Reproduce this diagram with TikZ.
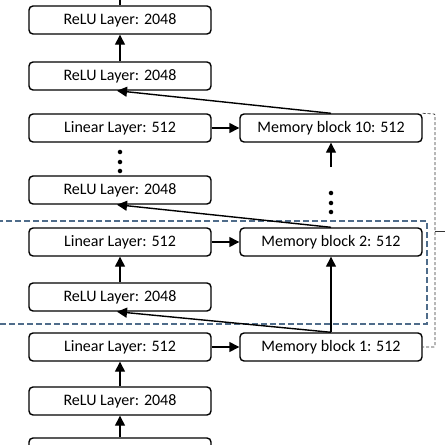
\documentclass[tikz,border=0pt]{standalone}
\usepackage{fontspec}
\setmainfont{Carlito}
\usetikzlibrary{arrows.meta,calc}
\tikzset {>={Triangle[length=10pt,width=10pt]}}
\tikzset{
  layer/.style={draw, line width=1.4pt, rounded corners=4pt,
    minimum width=182pt, minimum height=28pt, inner sep=0pt,
    font=\fontsize{16}{19}\selectfont},
  flow/.style={->, line width=1.4pt},
  dot/.style={circle, fill, inner sep=1.6pt}
}
\definecolor{groupblue}{HTML}{4F6C8A}

\begin{document}
\begin{tikzpicture}[x=1pt,y=-1pt]
\useasboundingbox (0,0) rectangle (445,445);

% Place left column of layers
\node[layer] (relu1) at (120,20) {ReLU Layer: 2048};
\node[layer] (relu2) at (120,76) {ReLU Layer: 2048};
\node[layer] (lin10) at (120,128) {Linear Layer: 512};
\node[layer] (relu3) at (120,190) {ReLU Layer: 2048};
\node[layer] (lin2) at (120,242) {Linear Layer: 512};
\node[layer] (relu4) at (120,297) {ReLU Layer: 2048};
\node[layer] (lin1) at (120,347) {Linear Layer: 512};
\node[layer] (relu5) at (120,401) {ReLU Layer: 2048};
\node[layer] (relu6) at (120,452) {};

% Place memory blocks
\node[layer] (mem10) at (331,128) {Memory block 10: 512};
\node[layer] (mem2) at (331,242) {Memory block 2: 512};
\node[layer] (mem1) at (331,347) {Memory block 1: 512};

% Dots for skipped layers
\foreach \y in {152,162,171} \node[dot] at (120,\y) {};
\foreach \y in {193,203,212} \node[dot] at (331,\y) {};

% Draw group of one block
\draw [groupblue, line width=1.4pt, dash pattern=on 6pt off 3pt] (-5,221) rectangle (427,324);

% Draw vertical flow
\coordinate (out) at (120,-10);
\coordinate (memin) at (331,167);
\draw [line width=1.4pt] (relu1) -- (out);
\draw [flow] (relu2) -- (relu1);
\draw [flow] (relu4) -- (lin2);
\draw [flow] (relu5) -- (lin1);
\draw [flow] (relu6) -- (relu5);
\draw [flow] (memin) -- (mem10);
\draw [flow] (mem1) -- (mem2);

% Draw linear to memory
\draw [flow] (lin10) -- (mem10);
\draw [flow] (lin2) -- (mem2);
\draw [flow] (lin1) -- (mem1);

% Draw memory back to ReLU
\draw [flow] (mem10.north) -- ($(relu2.south)+(-3,0)$);
\draw [flow] (mem2.north) -- ($(relu3.south)+(-3,0)$);
\draw [flow] (mem1.north) -- ($(relu4.south)+(-3,0)$);

% Bracket over memory blocks
\coordinate (tick) at (445,231);
\draw [gray!40!black, line width=0.7pt, densely dashed, rounded corners=1pt]
  (mem10.north east) -- (435,114) -- (435,347) -- (mem1.east);
\draw [gray!40!black, line width=0.7pt] (435,231) -- (tick);

\end{tikzpicture}
\end{document}
